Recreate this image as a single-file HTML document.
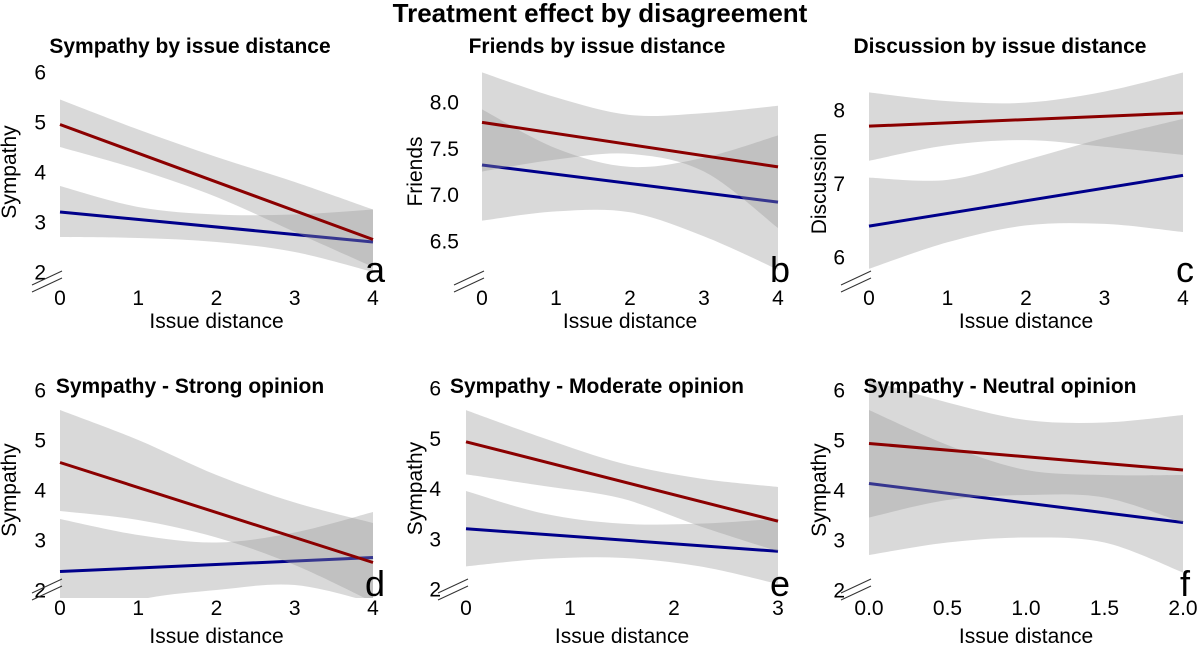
<!DOCTYPE html>
<html><head><meta charset="utf-8"><style>
body{margin:0;background:#fff;}
svg{display:block;font-family:"Liberation Sans",sans-serif;}
</style></head><body>
<svg id="chart" width="1200" height="646">
<text x="600" y="22" text-anchor="middle" font-size="26" font-weight="bold">Treatment effect by disagreement</text>
</svg>
<script>
// ---- data ----
const titles = ["Sympathy by issue distance","Friends by issue distance","Discussion by issue distance","Sympathy - Strong opinion","Sympathy - Moderate opinion","Sympathy - Neutral opinion"];
const yTitles = ["Sympathy","Friends","Discussion","Sympathy","Sympathy","Sympathy"];
const panelLetters = ["a","b","c","d","e","f"];
const xMaxes = [4,4,4,4,3,2];
const xTickLabels = [["0","1","2","3","4"],["0","1","2","3","4"],["0","1","2","3","4"],["0","1","2","3","4"],["0","1","2","3"],["0.0","0.5","1.0","1.5","2.0"]];
const yTickLabels = [["2","3","4","5","6"],["6.5","7.0","7.5","8.0"],["6","7","8"],["2","3","4","5","6"],["2","3","4","5","6"],["2","3","4","5","6"]];
const redMean = [[4.95,2.65],[7.78,7.3],[7.78,7.96],[4.55,2.55],[4.93,3.35],[4.93,4.4]];
const blueMean = [[3.2,2.6],[7.32,6.92],[6.42,7.11],[2.37,2.65],[3.2,2.75],[4.13,3.35]];
const redUpper = [[5.45,4.85,4.3,3.8,3.25],[8.32,8.05,7.86,7.88,7.96],[8.24,8.12,8.1,8.25,8.51],[5.6,5.0,4.3,3.75,3.34],[5.56,5.0,4.5,4.2,4.03],[6.2,5.75,5.4,5.35,5.5]];
const redLower = [[4.5,4.05,3.5,2.8,2.1],[7.25,7.38,7.44,7.25,6.64],[7.31,7.52,7.59,7.5,7.39],[3.58,3.4,3.05,2.5,1.76],[4.28,4.05,3.8,3.25,2.75],[3.45,3.8,3.9,3.85,3.35]];
const blueUpper = [[3.72,3.3,3.15,3.15,3.25],[7.92,7.5,7.3,7.4,7.64],[7.08,7.05,7.32,7.62,7.88],[3.42,3.1,2.95,3.15,3.56],[3.95,3.5,3.3,3.3,3.4],[5.6,4.9,4.4,4.3,4.3]];
const blueLower = [[2.7,2.68,2.6,2.4,2.0],[6.72,6.82,6.81,6.55,6.19],[5.84,6.2,6.43,6.45,6.34],[1.3,1.8,2.0,2.1,1.75],[2.45,2.6,2.62,2.45,2.1],[2.7,2.95,3.05,2.95,2.35]];

// ---- layout (pixels) ----
const layout = [
 {x0:60,x1:373,top:60,bot:290,vA:6,pA:72,vB:2,pB:272,lab:46,yt:16,tc:190,ty:53,tk:305,xt:328,lt:282},
 {x0:482,x1:778,top:60,bot:290,vA:8,pA:102,vB:6.5,pB:241,lab:459,yt:422,tc:597,ty:53,tk:305,xt:328,lt:282},
 {x0:869,x1:1183,top:60,bot:290,vA:8,pA:110,vB:6,pB:257,lab:845,yt:826,tc:1000,ty:53,tk:305,xt:328,lt:282},
 {x0:60,x1:373,top:378,bot:598,vA:6,pA:390,vB:2,pB:590,lab:46,yt:16,tc:190,ty:393,tk:615,xt:643,lt:596},
 {x0:466,x1:778,top:378,bot:598,vA:6,pA:388,vB:2,pB:589,lab:441,yt:422,tc:597,ty:393,tk:615,xt:643,lt:596},
 {x0:869,x1:1183,top:378,bot:598,vA:6,pA:390,vB:2,pB:590,lab:845,yt:826,tc:1000,ty:393,tk:615,xt:643,lt:596}
];
const NS="http://www.w3.org/2000/svg";
const svg=document.getElementById('chart');
function mk(tag,attrs,parent){const e=document.createElementNS(NS,tag);for(const k in attrs)e.setAttribute(k,attrs[k]);(parent||svg).appendChild(e);return e;}
function smooth(pts,start){
  let d=start?('M'+pts[0][0]+','+pts[0][1]):('L'+pts[0][0]+','+pts[0][1]);
  for(let k=0;k<pts.length-1;k++){
    const p0=pts[Math.max(k-1,0)],p1=pts[k],p2=pts[k+1],p3=pts[Math.min(k+2,pts.length-1)];
    const c1=[p1[0]+(p2[0]-p0[0])/6,p1[1]+(p2[1]-p0[1])/6];
    const c2=[p2[0]-(p3[0]-p1[0])/6,p2[1]-(p3[1]-p1[1])/6];
    d+='C'+c1[0]+','+c1[1]+' '+c2[0]+','+c2[1]+' '+p2[0]+','+p2[1];
  }
  return d;
}
const defs=mk('defs',{});
layout.forEach((L,i)=>{
  const xs=v=>L.x0+v/xMaxes[i]*(L.x1-L.x0);
  const ys=v=>L.pA+(L.vA-v)*(L.pB-L.pA)/(L.vA-L.vB);
  const g=mk('g',{});
  
  
  const cp=mk('clipPath',{id:'cp'+i},defs);
  mk('rect',{x:L.x0-1,y:L.top,width:L.x1-L.x0+2,height:L.bot-L.top},cp);
  const cg=mk('g',{'clip-path':`url(#cp${i})`},g);
  function ribbon(up,lo,name){
    const n=up.length;
    const U=up.map((v,k)=>[xs(k*xMaxes[i]/(n-1)),ys(v)]);
    const D=lo.map((v,k)=>[xs(k*xMaxes[i]/(n-1)),ys(v)]).reverse();
    const p=mk('path',{d:smooth(U,true)+smooth(D,false)+'Z',fill:'rgb(150,150,150)','fill-opacity':0.36},cg);
    
    
  }
  function line(m,col,name){
    const l=mk('line',{x1:xs(0),y1:ys(m[0]),x2:xs(xMaxes[i]),y2:ys(m[1]),stroke:col,'stroke-width':3},cg);
    
    
  }
  ribbon(blueUpper[i],blueLower[i],'blue-ci-ribbon');
  line(blueMean[i],'#00008b','blue-line');
  ribbon(redUpper[i],redLower[i],'red-ci-ribbon');
  line(redMean[i],'#8b0000','red-line');
  const t=mk('text',{x:L.tc,y:L.ty,'text-anchor':'middle','font-size':21,'font-weight':'bold'},g);
  t.textContent=titles[i];
  
  
  yTickLabels[i].forEach(s=>{
    const e=mk('text',{x:L.lab,y:ys(parseFloat(s))+7.5,'text-anchor':'end','font-size':21},g);
    e.textContent=s;
    
    
  });
  xTickLabels[i].forEach(s=>{
    const e=mk('text',{x:xs(parseFloat(s)),y:L.tk,'text-anchor':'middle','font-size':21},g);
    e.textContent=s;
    
    
  });
  const xt=mk('text',{x:(L.x0+L.x1)/2,y:L.xt,'text-anchor':'middle','font-size':21},g);
  xt.textContent='Issue distance';
  
  
  const ym=(L.pA+L.pB)/2;
  const yt=mk('text',{x:L.yt,y:ym,'text-anchor':'middle','font-size':21,transform:`rotate(-90 ${L.yt} ${ym})`},g);
  yt.textContent=yTitles[i];
  
  
  const bx=L.x0-28, by=L.bot-8;
  mk('line',{x1:bx,y1:by+3,x2:bx+30,y2:by-11,stroke:'#333','stroke-width':1},g);
  mk('line',{x1:bx,y1:by+10,x2:bx+30,y2:by-4,stroke:'#333','stroke-width':1},g);
  const pl=mk('text',{x:L.x1+2,y:L.lt,'text-anchor':'middle','font-size':36},g);
  pl.textContent=panelLetters[i];
  
  
});
</script>
</body></html>
